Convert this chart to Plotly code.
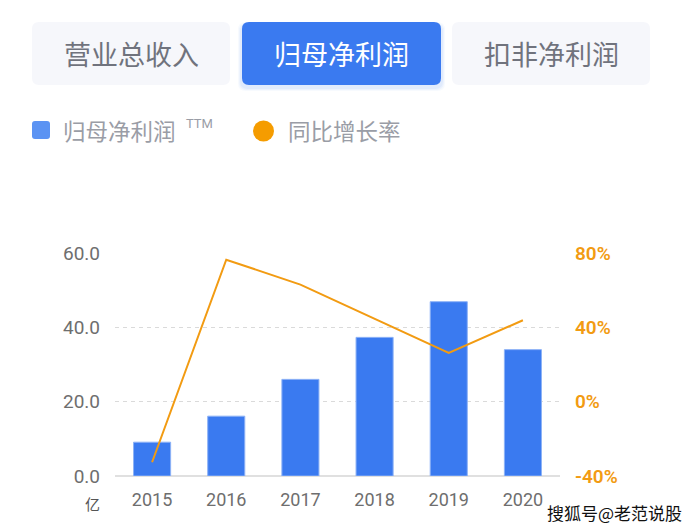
import plotly.graph_objects as go

years = ["2015", "2016", "2017", "2018", "2019", "2020"]
profit = [9.1, 16.1, 26.0, 37.3, 46.9, 34.0]
growth = [-32.6, 76.4, 63.0, 44.6, 26.2, 43.8]
left_ticks = [0, 20, 40, 60]
left_labels = ["0.0", "20.0", "40.0", "60.0"]
right_ticks = [-40, 0, 40, 80]
right_labels = ["-40%", "0%", "40%", "80%"]
tabs = ["营业总收入", "归母净利润", "扣非净利润"]

W, H = 685, 530
BLUE = "#3A7AF0"
ORANGE = "#F29B12"
FONT = "Noto Sans CJK SC"

def px(x):
    return x / W

def py(y):
    return 1 - y / H

def rrect(x0, y0, x1, y1, r):
    rx, ry = r / W, r / H
    X0, X1 = px(x0), px(x1)
    Y0, Y1 = py(y0), py(y1)
    return (f"M {X0+rx},{Y0} L {X1-rx},{Y0} Q {X1},{Y0} {X1},{Y0-ry} "
            f"L {X1},{Y1+ry} Q {X1},{Y1} {X1-rx},{Y1} L {X0+rx},{Y1} "
            f"Q {X0},{Y1} {X0},{Y1+ry} L {X0},{Y0-ry} Q {X0},{Y0} {X0+rx},{Y0} Z")

fig = go.Figure()
fig.add_trace(go.Bar(
    x=years, y=profit, width=0.5,
    marker=dict(color=BLUE, line=dict(color="#8DB2F6", width=1)),
    showlegend=False, hoverinfo="skip"))
fig.add_trace(go.Scatter(
    x=years, y=growth, yaxis="y2", mode="lines",
    line=dict(color=ORANGE, width=2), showlegend=False, hoverinfo="skip"))

shapes = []
annotations = []

tab_x = [(32, 230), (242, 441), (452, 650)]
for i, (name, (a, b)) in enumerate(zip(tabs, tab_x)):
    active = i == 1
    if active:
        for k, op in enumerate([0.06, 0.05, 0.04]):
            shapes.append(dict(type="path", xref="paper", yref="paper",
                               path=rrect(a - 2 - k, 24 - k, b + 2 + k, 89 + k, 8),
                               fillcolor=f"rgba(58,122,240,{op})", line=dict(width=0), layer="below"))
    shapes.append(dict(type="path", xref="paper", yref="paper",
                       path=rrect(a, 22, b, 85, 7),
                       fillcolor=BLUE if active else "#F6F7FB",
                       line=dict(width=0), layer="below"))
    annotations.append(dict(x=px((a + b) / 2), y=py(53.5), xref="paper", yref="paper",
                            text=name, showarrow=False, xanchor="center", yanchor="middle",
                            font=dict(family=FONT, size=27,
                                      color="#FFFFFF" if active else "#70737D")))

shapes.append(dict(type="path", xref="paper", yref="paper",
                   path=rrect(32, 121, 50, 139, 3), fillcolor="#5B93F3", line=dict(width=0)))
annotations.append(dict(x=px(61), y=py(130), xref="paper", yref="paper",
                        text="归母净利润", showarrow=False, xanchor="left", yanchor="middle",
                        font=dict(family=FONT, size=22.5, color="#9A9DA6")))
annotations.append(dict(x=px(184), y=py(123), xref="paper", yref="paper",
                        text="TTM", showarrow=False, xanchor="left", yanchor="middle",
                        font=dict(family="Roboto", size=13, color="#9A9DA6")))
shapes.append(dict(type="circle", xref="paper", yref="paper",
                   x0=px(253), x1=px(274), y0=py(120.5), y1=py(141.5),
                   fillcolor="#F59C00", line=dict(width=0)))
annotations.append(dict(x=px(286), y=py(130), xref="paper", yref="paper",
                        text="同比增长率", showarrow=False, xanchor="left", yanchor="middle",
                        font=dict(family=FONT, size=22.5, color="#9A9DA6")))

annotations.append(dict(x=px(92), y=py(503), xref="paper", yref="paper",
                        text="亿", showarrow=False, xanchor="center", yanchor="middle",
                        font=dict(family=FONT, size=15, color="#555555")))
annotations.append(dict(x=px(545), y=py(512), xref="paper", yref="paper",
                        text="搜狐号@老范说股", showarrow=False, xanchor="left", yanchor="middle",
                        font=dict(family=FONT, size=17, color="#111111",
                                  shadow="1px 1px 1px #ffffff, -1px -1px 1px #ffffff")))

fig.update_layout(
    width=W, height=H,
    margin=dict(l=0, r=0, t=0, b=0, autoexpand=False),
    paper_bgcolor="white", plot_bgcolor="white",
    bargap=0.5,
    shapes=shapes, annotations=annotations,
    xaxis=dict(domain=[px(115), px(560)], showgrid=False, showline=False,
               tickfont=dict(family="Roboto", size=18, color="#6E6E6E"),
               ticks="", ticklabelstandoff=11, fixedrange=True, automargin=False),
    yaxis=dict(domain=[1 - 476 / H, 1 - 253 / H], range=[0, 60],
               tickvals=left_ticks, ticktext=left_labels,
               tickfont=dict(family="Roboto", size=19, color="#6E6E6E"),
               showgrid=True, gridcolor="#DADADA", griddash="4px,4px", gridwidth=1,
               zeroline=True, zerolinecolor="#E0E0E0", zerolinewidth=2,
               showline=False, ticks="", ticklabelstandoff=14, automargin=False),
    yaxis2=dict(overlaying="y", side="right", anchor="x", range=[-40, 80],
                tickvals=right_ticks, ticktext=right_labels,
                tickfont=dict(family="Roboto", size=19, color="#F29B12", weight=600),
                showgrid=False, zeroline=False, showline=False, ticks="",
                ticklabelstandoff=14, automargin=False),
)

fig.write_html("out.html")
